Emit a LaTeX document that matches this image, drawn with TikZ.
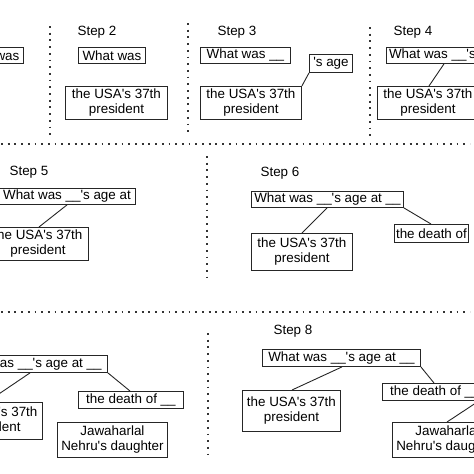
\documentclass[tikz,border=0pt]{standalone}
\usepackage{fontspec}
\setmainfont{Liberation Sans}
\newcommand{\aq}{\textquotesingle}
\begin{document}
\begin{tikzpicture}[x=1pt,y=-1pt,
  box/.style={draw=black!85, line width=0.9pt, inner sep=0pt, align=center, anchor=north west,
    font=\fontsize{13.4}{15}\selectfont},
  lbl/.style={inner sep=0pt, font=\fontsize{13.4}{15}\selectfont},
  conn/.style={draw=black!85, line width=0.9pt},
  dots/.style={draw=black!80, line width=1.8pt, dash pattern=on 1.8pt off 4.9pt}]
\useasboundingbox (0,0) rectangle (474,474);
\clip (0,0) rectangle (474,474);
% separators
\draw[dots] (1,144) -- (470,144);
\draw[dots] (1,312) -- (470,312);
\draw[dots] (50,26) -- (50,136);
\draw[dots] (188,23) -- (188,133);
\draw[dots] (370,27) -- (370,136);
\draw[dots] (207,156) -- (207,280);
\draw[dots] (208,333) -- (208,457);
% Step 1
\node[box, minimum width=67pt, minimum height=16pt] (s1q) at (-44,47) {What was};
% Step 2
\node[lbl] (l2) at (97,32) {Step 2};
\node[box, minimum width=67pt, minimum height=16pt] (s2q) at (78,47) {What was};
\node[box, minimum width=102pt, minimum height=33pt] (s2u) at (65,86) {the USA\aq s 37th\\president};
% Step 3
\node[lbl] (l3) at (237,32) {Step 3};
\node[box, minimum width=90pt, minimum height=16pt] (s3q) at (200,47) {What was \_\_};
\node[box, minimum width=43pt, minimum height=18pt] (s3a) at (309,54) {\aq s age};
\node[box, minimum width=101pt, minimum height=33pt] (s3u) at (200,86) {the USA\aq s 37th\\president};
\draw[conn] (s3u.north east) -- (s3a.south west);
% Step 4
\node[lbl] (l4) at (413,32) {Step 4};
\node[box, minimum width=118pt, minimum height=16pt] (s4q) at (386,47) {What was \_\_\aq s age};
\node[box, minimum width=101pt, minimum height=33pt] (s4u) at (377,86) {the USA\aq s 37th\\president};
\draw[conn] ([xshift=58pt]s4q.south west) -- ([xshift=52pt]s4u.north west);
% Step 5
\node[lbl] (l5) at (29,172) {Step 5};
\node[box, minimum width=137pt, minimum height=16pt] (s5q) at (-2,188) {What was \_\_\aq s age at};
\node[box, minimum width=101pt, minimum height=33pt] (s5u) at (-13,227) {the USA\aq s 37th\\president};
\draw[conn] ([xshift=69pt]s5q.south west) -- ([xshift=52pt]s5u.north west);
% Step 6
\node[lbl] (l6) at (280,173) {Step 6};
\node[box, minimum width=152pt, minimum height=16pt] (s6q) at (251,191) {What was \_\_\aq s age at \_\_};
\node[box, minimum width=101pt, minimum height=37pt] (s6u) at (251,233) {the USA\aq s 37th\\president};
\node[box, minimum width=74pt, minimum height=18pt] (s6d) at (394,224) {the death of};
\draw[conn] ([xshift=76pt]s6q.south west) -- ([xshift=51pt]s6u.north west);
\draw[conn] (s6q.south east) -- ([xshift=37pt]s6d.north west);
% Step 7
\node[box, minimum width=158pt, minimum height=17pt] (s7q) at (-51,355) {What was \_\_\aq s age at \_\_};
\node[box, minimum width=99pt, minimum height=37pt] (s7u) at (-57,402) {the USA\aq s 37th\\president};
\node[box, minimum width=105pt, minimum height=17pt] (s7d) at (78,391) {the death of \_\_};
\node[box, minimum width=110pt, minimum height=35pt] (s7j) at (57,422) {Jawaharlal\\Nehru\aq s daughter};
\draw[conn] ([xshift=81pt]s7q.south west) -- ([xshift=44pt]s7u.north west);
\draw[conn] (s7q.south east) -- ([xshift=52pt]s7d.north west);
% Step 8
\node[lbl] (l8) at (293,331) {Step 8};
\node[box, minimum width=158pt, minimum height=17pt] (s8q) at (262,349) {What was \_\_\aq s age at \_\_};
\node[box, minimum width=98pt, minimum height=41pt] (s8u) at (242,390) {the USA\aq s 37th\\president};
\node[box, minimum width=105pt, minimum height=17pt] (s8d) at (382,383) {the death of \_\_};
\node[box, minimum width=110pt, minimum height=35pt] (s8j) at (392,422) {Jawaharlal\\Nehru\aq s daughter};
\draw[conn] ([xshift=80pt]s8q.south west) -- ([xshift=50pt]s8u.north west);
\draw[conn] (s8q.south east) -- ([xshift=52pt]s8d.north west);
\draw[conn] ([xshift=97pt]s8d.south west) -- ([xshift=55pt]s8j.north west);
\end{tikzpicture}
\end{document}
